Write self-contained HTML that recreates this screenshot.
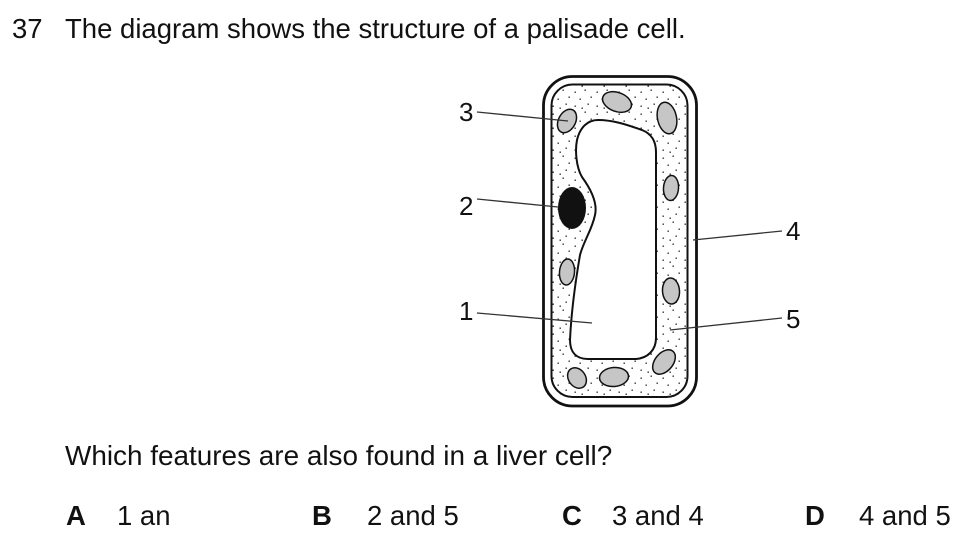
<!DOCTYPE html>
<html>
<head>
<meta charset="utf-8">
<style>
  html,body{margin:0;padding:0;background:#fff;}
  body{width:980px;height:552px;overflow:hidden;}
  svg{display:block;}
  text{font-family:"Liberation Sans",Arial,sans-serif;fill:#111;}
</style>
</head>
<body>
<svg width="980" height="552" viewBox="0 0 980 552" xmlns="http://www.w3.org/2000/svg">
  <defs>
    <pattern id="dots" x="0" y="0" width="22" height="22" patternUnits="userSpaceOnUse">
      <rect x="2.5" y="3.5" width="1.4" height="1.4" fill="#333"/>
      <rect x="12.5" y="1.5" width="1.4" height="1.4" fill="#333"/>
      <rect x="18.5" y="8.5" width="1.4" height="1.4" fill="#333"/>
      <rect x="7.5" y="10.5" width="1.4" height="1.4" fill="#333"/>
      <rect x="15.5" y="15.5" width="1.4" height="1.4" fill="#333"/>
      <rect x="2.5" y="17.5" width="1.4" height="1.4" fill="#333"/>
      <rect x="9.5" y="19.5" width="1.4" height="1.4" fill="#333"/>
    </pattern>
  </defs>

  <rect width="980" height="552" fill="#fff"/>

  <!-- Title -->
  <text x="12" y="38" font-size="27.5">37</text>
  <text x="65" y="38" font-size="27.5">The diagram shows the structure of a palisade cell.</text>

  <!-- Cytoplasm dotted region -->
  <path fill="url(#dots)" fill-rule="evenodd"
    d="M 572 85 L 667 85 Q 688 85 688 106 L 688 376 Q 688 397 667 397 L 572 397 Q 552 397 552 376 L 552 106 Q 552 85 572 85 Z
       M 598 120 C 612 120 625 124 642 130 C 652 134 656 142 656 152 L 656 338 C 656 350 648 358 636 359 L 588 359 C 576 359 570 352 570 340 C 571 318 574 290 580 255 C 584 240 592 230 595 215 C 598 202 590 188 582 177 C 576 167 575 150 577 140 C 580 127 588 120 598 120 Z"/>

  <!-- Cell wall lines -->
  <rect x="543.5" y="76.5" width="153" height="329.5" rx="29" ry="29" fill="none" stroke="#111" stroke-width="2.8"/>
  <rect x="551.5" y="84.5" width="136" height="312.5" rx="21" ry="21" fill="none" stroke="#111" stroke-width="2"/>

  <!-- Vacuole -->
  <path fill="#fff" stroke="#111" stroke-width="2"
    d="M 598 120 C 612 120 625 124 642 130 C 652 134 656 142 656 152 L 656 338 C 656 350 648 358 636 359 L 588 359 C 576 359 570 352 570 340 C 571 318 574 290 580 255 C 584 240 592 230 595 215 C 598 202 590 188 582 177 C 576 167 575 150 577 140 C 580 127 588 120 598 120 Z"/>

  <!-- Chloroplasts -->
  <g fill="#c6c6c6" stroke="#111" stroke-width="1.5">
    <ellipse cx="567" cy="121" rx="8.5" ry="12.5" transform="rotate(28 567 121)"/>
    <ellipse cx="617" cy="102" rx="15" ry="9.5" transform="rotate(20 617 102)"/>
    <ellipse cx="667" cy="118" rx="9.5" ry="16" transform="rotate(-12 667 118)"/>
    <ellipse cx="671" cy="188" rx="7.5" ry="12.5" transform="rotate(4 671 188)"/>
    <ellipse cx="567" cy="272" rx="7.5" ry="13" transform="rotate(5 567 272)"/>
    <ellipse cx="671" cy="291" rx="8.5" ry="13" transform="rotate(-4 671 291)"/>
    <ellipse cx="664" cy="362" rx="9" ry="14" transform="rotate(40 664 362)"/>
    <ellipse cx="577" cy="378" rx="8.5" ry="11" transform="rotate(-35 577 378)"/>
    <ellipse cx="614" cy="377" rx="14.5" ry="9.5" transform="rotate(-5 614 377)"/>
  </g>

  <!-- Nucleus -->
  <ellipse cx="572" cy="208" rx="14" ry="21" fill="#111"/>

  <!-- Label lines -->
  <g stroke="#333" stroke-width="1.3">
    <line x1="477" y1="112" x2="568" y2="121"/>
    <line x1="477" y1="199" x2="558" y2="207"/>
    <line x1="477" y1="313" x2="592" y2="323"/>
    <line x1="782" y1="231" x2="693" y2="240"/>
    <line x1="782" y1="318" x2="670" y2="330"/>
  </g>

  <!-- Labels -->
  <text x="459" y="121" font-size="26">3</text>
  <text x="459" y="215" font-size="26">2</text>
  <text x="459" y="320" font-size="26">1</text>
  <text x="786" y="240" font-size="26">4</text>
  <text x="786" y="328" font-size="26">5</text>

  <!-- Question -->
  <text x="65" y="465" font-size="27.9">Which features are also found in a liver cell?</text>

  <!-- Options -->
  <text x="66" y="525" font-size="27.5" font-weight="bold">A</text>
  <text x="117" y="525" font-size="27.5">1 an</text>
  <text x="312" y="525" font-size="27.5" font-weight="bold">B</text>
  <text x="367" y="525" font-size="27.5">2 and 5</text>
  <text x="562" y="525" font-size="27.5" font-weight="bold">C</text>
  <text x="612" y="525" font-size="27.5">3 and 4</text>
  <text x="805" y="525" font-size="27.5" font-weight="bold">D</text>
  <text x="859" y="525" font-size="27.5">4 and 5</text>
</svg>
</body>
</html>
